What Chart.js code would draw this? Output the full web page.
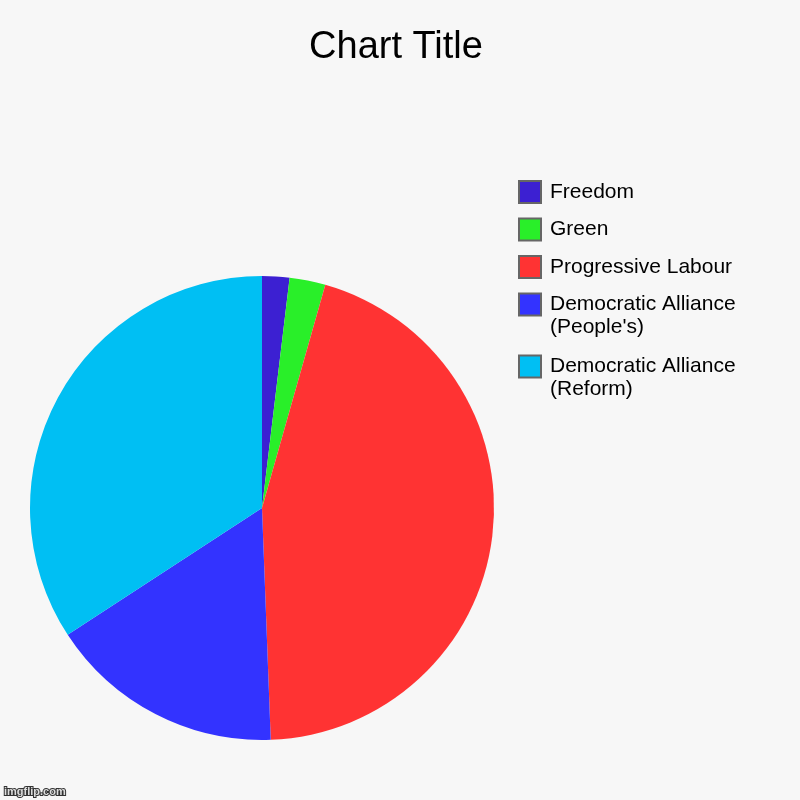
<!DOCTYPE html>
<html>
<head>
<meta charset="utf-8">
<script src="https://cdn.jsdelivr.net/npm/chart.js@4"></script>
<style>
  html, body { margin: 0; padding: 0; background: #f7f7f7; }
  #wrap { width: 800px; height: 800px; }
</style>
</head>
<body>
<div id="wrap"><canvas id="pieChart" width="800" height="800"></canvas></div>
<script>
const parties = ['Freedom', 'Green', 'Progressive Labour', "Democratic Alliance (People's)", 'Democratic Alliance (Reform)'];
const legendLines = [['Freedom'], ['Green'], ['Progressive Labour'], ['Democratic Alliance', "(People's)"], ['Democratic Alliance', '(Reform)']];
const shares = [1.9, 2.5, 45.0, 16.4, 34.2];
const sliceColors = ['#3c20d2', '#29ef29', '#ff3333', '#3333ff', '#00bff3'];

const FONT = 'Arial, "Liberation Sans", sans-serif';

// title, legend and watermark drawn by hand, like the original image
const decor = {
    id: 'decor',
    afterDraw(chart) {
        const ctx = chart.ctx;
        ctx.save();
        ctx.fillStyle = '#000';
        ctx.textAlign = 'center';
        ctx.textBaseline = 'middle';
        ctx.font = '38px ' + FONT;
        ctx.fillText('Chart Title', 396, 48);

        ctx.textAlign = 'left';
        ctx.font = '21px ' + FONT;
        let y = 192;
        legendLines.forEach((lines, i) => {
            ctx.fillStyle = sliceColors[i];
            ctx.fillRect(519, y - 11, 22, 22);
            ctx.strokeStyle = '#666';
            ctx.lineWidth = 2;
            ctx.strokeRect(519, y - 11, 22, 22);
            ctx.fillStyle = '#000';
            lines.forEach((t, j) => ctx.fillText(t, 550, y + j * 23));
            y += lines.length > 1 ? 62 : 37.5;
        });

        ctx.font = 'bold 11px ' + FONT;
        ctx.lineWidth = 2;
        ctx.strokeStyle = '#333';
        ctx.strokeText('imgflip.com', 4, 792);
        ctx.fillStyle = '#ddd';
        ctx.fillText('imgflip.com', 4, 792);
        ctx.restore();
    }
};

new Chart(document.getElementById('pieChart').getContext('2d'), {
    type: 'pie',
    data: {
        labels: parties,
        datasets: [{
            data: shares,
            backgroundColor: sliceColors,
            borderWidth: 0
        }]
    },
    options: {
        responsive: false,
        animation: false,
        layout: { padding: { left: 30, right: 306, top: 276, bottom: 60 } },
        plugins: {
            legend: { display: false },
            title: { display: false },
            tooltip: { enabled: false }
        }
    },
    plugins: [decor]
});
</script>
</body>
</html>
